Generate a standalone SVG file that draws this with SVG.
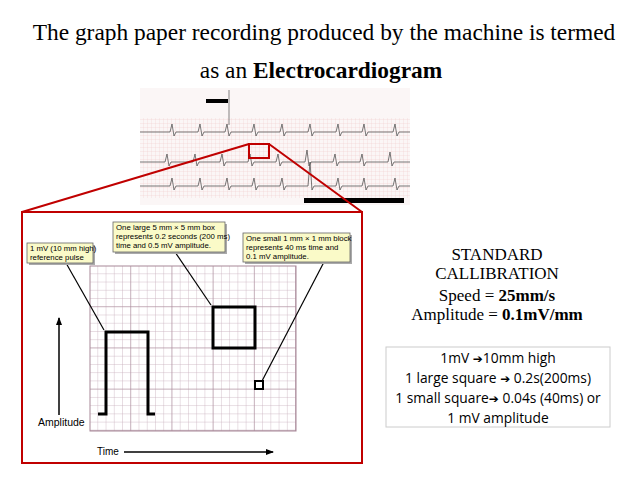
<svg xmlns="http://www.w3.org/2000/svg" width="638" height="478" viewBox="0 0 638 478">
<defs>
<pattern id="sg" width="8.24" height="8.24" patternUnits="userSpaceOnUse" x="90" y="266"><path d="M8.24 0V8.24H0" fill="none" stroke="#c8b0bc" stroke-width="0.8"/></pattern>
<pattern id="lg" width="41.2" height="41.2" patternUnits="userSpaceOnUse" x="90" y="266"><path d="M41.2 0V41.2H0" fill="none" stroke="#a88898" stroke-width="1"/></pattern>
<pattern id="eg" width="4" height="4" patternUnits="userSpaceOnUse"><path d="M4 0V4H0" fill="none" stroke="#f0c8c8" stroke-width="0.5"/></pattern>
<marker id="ah" markerWidth="8" markerHeight="8" refX="7" refY="4" orient="auto" markerUnits="userSpaceOnUse"><path d="M0 1L8 4L0 7Z" fill="#000"/></marker>
</defs>
<style>
.ser{font-family:"Liberation Serif",serif}
.san{font-family:"Liberation Sans",Arial,sans-serif}
.cal{font-family:"Open Sans","Liberation Sans",sans-serif;font-size:13.8px}
.cb{fill:#fafac8;stroke:#666;stroke-width:0.8}
.sh{fill:#aaa}
.ct{font-family:"Liberation Sans",sans-serif;font-size:7.8px}
.red{stroke:#c00000;fill:none;stroke-width:2}
.ar{font-family:"DejaVu Sans",sans-serif;font-size:12px}
</style>
<rect width="638" height="478" fill="#fff"/>
<g id="title">
<text class="ser" x="324" y="40" font-size="23.4" text-anchor="middle">The graph paper recording produced by the machine is termed</text>
<text class="ser" x="321" y="78" font-size="23.4" text-anchor="middle">as an <tspan font-weight="bold">Electrocardiogram</tspan></text>
</g>
<g id="ecg-strip">
<rect x="140" y="88" width="270" height="117" fill="#fbf6f6"/>
<rect x="140" y="118" width="270" height="80" fill="url(#eg)"/>
<rect x="206" y="99" width="22" height="4" fill="#000"/>
<rect x="304" y="198" width="100" height="5" fill="#000"/>
<line x1="229" y1="90" x2="229" y2="125" stroke="#333" stroke-width="0.6"/>
<g fill="none" stroke="#555" stroke-width="0.8">
<path d="M140 132H170l2-8 2 12 2-4H198l2-8 2 12 2-4H225l2-8 2 12 2-4H252l2-8 2 12 2-4H280l2-8 2 12 2-4H308l2-8 2 12 2-4H336l2-8 2 12 2-4H362l2-8 2 12 2-4H393l2-8 2 12 2-4H410"/>
<path d="M140 162H165l2-8 2 12 2-4H193l2-8 2 12 2-4H220l2-8 2 12 2-4H248l2-8 2 12 2-4H276l2-8 2 12 2-4H305l2-12 2 16 2-4H333l2-8 2 12 2-4H360l2-8 2 12 2-4H388l2-10 2 14 2-4H410"/>
<path d="M140 186H170l2-8 2 12 2-4H198l2-8 2 12 2-4H225l2-8 2 12 2-4H252l2-8 2 12 2-4H280l2-8 2 12 2-4H308l2-24 2 28 2-4H336l2-8 2 12 2-4H362l2-8 2 12 2-4H393l2-8 2 12 2-4H410"/>
</g>
</g>
<g id="zoom-box">
<rect x="249" y="144" width="20" height="14" class="red"/>
<path d="M249 144L22 212M269 144L362 212" class="red"/>
<rect x="22" y="212" width="340" height="251" class="red"/>
</g>
<g id="grid">
<rect x="90" y="266" width="206" height="165" fill="url(#sg)"/>
<rect x="90" y="266" width="206" height="165" fill="url(#lg)"/>
<rect x="90" y="266" width="206" height="165" fill="none" stroke="#a88898"/>
</g>
<g id="pulse"><path d="M98 414H106V332H148V414H155" fill="none" stroke="#000" stroke-width="3"/></g>
<g id="large-square"><rect x="213" y="307" width="42" height="41" fill="none" stroke="#000" stroke-width="3"/></g>
<g id="small-square"><rect x="255" y="381" width="8" height="8" fill="none" stroke="#000" stroke-width="2"/></g>
<g id="connectors" stroke="#000" stroke-width="1.2">
<line x1="66" y1="263" x2="104" y2="330"/>
<line x1="175" y1="252" x2="211" y2="305"/>
<line x1="324" y1="262" x2="262" y2="381"/>
<line x1="59" y1="415" x2="59" y2="318" stroke-width="1.5" marker-end="url(#ah)"/>
<line x1="124" y1="452" x2="273" y2="452" stroke-width="1.5" marker-end="url(#ah)"/>
</g>
<g id="callout1"><rect x="29" y="245" width="66" height="20" class="sh"/><rect x="27" y="243" width="66" height="20" class="cb"/>
<text class="ct" x="30" y="251">1 mV (10 mm high)</text><text class="ct" x="30" y="260">reference pulse</text></g>
<g id="callout2"><rect x="115" y="224" width="112" height="30" class="sh"/><rect x="113" y="222" width="112" height="30" class="cb"/>
<text class="ct" x="116" y="230">One large 5 mm × 5 mm box</text><text class="ct" x="116" y="239">represents 0.2 seconds (200 ms)</text><text class="ct" x="116" y="248">time and 0.5 mV amplitude.</text></g>
<g id="callout3"><rect x="245" y="235" width="107" height="29" class="sh"/><rect x="243" y="233" width="107" height="29" class="cb"/>
<text class="ct" x="246" y="241">One small 1 mm × 1 mm block</text><text class="ct" x="246" y="250">represents 40 ms time and</text><text class="ct" x="246" y="259">0.1 mV amplitude.</text></g>
<g id="axis-labels">
<text class="san" x="38" y="426" font-size="10.5">Amplitude</text>
<text class="san" x="97" y="455" font-size="10">Time</text>
</g>
<g id="standard">
<text class="ser" x="497" y="260" font-size="17" text-anchor="middle">STANDARD</text>
<text class="ser" x="497" y="279" font-size="17" text-anchor="middle">CALLIBRATION</text>
<text class="ser" x="497" y="301" font-size="17" text-anchor="middle">Speed = <tspan font-weight="bold">25mm/s</tspan></text>
<text class="ser" x="497" y="320" font-size="17" text-anchor="middle">Amplitude = <tspan font-weight="bold">0.1mV/mm</tspan></text>
</g>
<g id="summary">
<rect x="386" y="347" width="224" height="80" fill="#fff" stroke="#ccc"/>
<text class="cal" x="498" y="363" text-anchor="middle">1mV <tspan class="ar">➔</tspan>10mm high</text>
<text class="cal" x="498" y="383" text-anchor="middle">1 large square <tspan class="ar">➔</tspan> 0.2s(200ms)</text>
<text class="cal" x="498" y="403" text-anchor="middle">1 small square<tspan class="ar">➔</tspan> 0.04s (40ms) or</text>
<text class="cal" x="498" y="423" text-anchor="middle">1 mV amplitude</text>
</g>
</svg>
